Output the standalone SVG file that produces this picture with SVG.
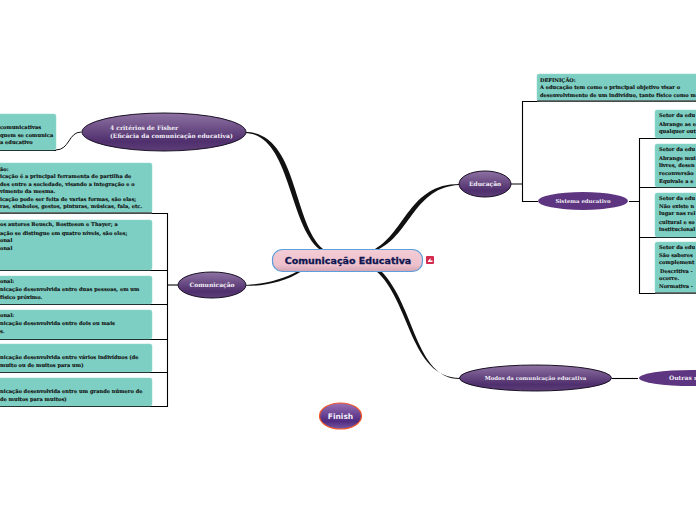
<svg xmlns="http://www.w3.org/2000/svg" width="696" height="520" viewBox="0 0 696 520">
<style>
.t{font-family:"DejaVu Serif",serif;font-weight:700;font-size:5.1px;fill:#111;stroke:#111;stroke-width:.12}
.w{font-family:"DejaVu Serif",serif;font-weight:700;font-size:6px;fill:#f2eef6}
.box{fill:#7ecfc3;stroke:#8ed6cb;stroke-width:.5}
.sh{fill:#555;opacity:.75}
.ln{fill:none;stroke:#000;stroke-width:1.1}
.c{fill:none;stroke:#111;stroke-linecap:round}
.el{fill:url(#g);stroke:#1a1024;stroke-width:1}
</style>
<defs>
<linearGradient id="g" x1="0" y1="0" x2="0" y2="1"><stop offset="0" stop-color="#8f73a3"/><stop offset=".75" stop-color="#4f2f6d"/><stop offset="1" stop-color="#5d3f78"/></linearGradient>
<linearGradient id="p" x1="0" y1="0" x2="0" y2="1"><stop offset="0" stop-color="#f3ccd6"/><stop offset=".7" stop-color="#eec1cc"/><stop offset="1" stop-color="#d3a3b2"/></linearGradient>
<linearGradient id="f" x1="0" y1="0" x2="0" y2="1"><stop offset="0" stop-color="#9a72b5"/><stop offset=".7" stop-color="#4f2a80"/><stop offset="1" stop-color="#7a58a0"/></linearGradient>
</defs>
<g id="connectors">
<path d="M323 249C292 222 298 132 245 132L245 133C290 134 288 222 319 249Z" fill="#111"/>
<path d="M298 271C284 279 265 284 246 285L246 285.800C265 286 285 282 302 271Z" fill="#111"/>
<path d="M375 249C405 232 410 184 459 184L459 185C415 187 410 234 379 249Z" fill="#111"/>
<path d="M376 271C410 300 410 378 460 378L460 379C415 379 415 305 381 271Z" fill="#111"/>
<path class="c" d="M81 132C68 132 70 150 56 150"/>
<path class="ln" stroke-width="1.400" d="M0 150.500H56"/>
<path class="ln" d="M0 213.500H167.500V406.500H0M0 270.500H167.500M0 304.500H167.500M0 339.500H167.500M0 372.500H167.500"/>
<path class="ln" d="M167 285H178" stroke-width="1.600"/>
<path class="ln" d="M511 184H522.500M696 101.500H522.500V201.500H538"/>
<path class="ln" d="M629 201.500H640M696 138.500H639.500V293.500H696M640 187.500H696M640 237.500H696"/>
<path class="ln" d="M612 378.500H638"/>
</g>
<g id="n-center">
<rect x="272.500" y="249.500" width="150" height="22" rx="10" fill="url(#p)" stroke="#5c9fdc" stroke-width="1.200"/>
<text x="348" y="264" text-anchor="middle" style="font-family:'DejaVu Sans',sans-serif;font-weight:700;font-size:9.500px;fill:#0d1450;stroke:#0d1450;stroke-width:.3">Comunicação Educativa</text>
<rect x="426" y="256" width="8" height="8" rx="1" fill="#d42a4e"/>
<path d="M428 261L430.500 258V260.500H432.500V262H428Z" fill="#fff"/>
</g>
<g id="n-fisher">
<ellipse cx="164" cy="132" rx="82" ry="19" class="el"/>
<text class="w" x="110" y="130">4 critérios de Fisher</text>
<text class="w" x="110" y="138">(Eficácia da comunicação educativa)</text>
</g>
<g id="n-fisher-note">
<rect x="-10" y="114" width="66" height="36" rx="2" class="box"/>
<text class="t" x="0" y="129">comunicativas</text>
<text class="t" x="0" y="136.500">quem se comunica</text>
<text class="t" x="0" y="144">a educativo</text>
</g>
<g id="n-def-com">
<rect x="-10" y="163" width="162" height="50" rx="2" class="box"/>
<rect x="-10" y="212" width="162" height="2" class="sh"/>
<text class="t" x="0" y="171">ão:</text>
<text class="t" x="0" y="178">icação é a principal ferramenta de partilha de</text>
<text class="t" x="0" y="186">des entre a sociedade, visando a integração e o</text>
<text class="t" x="0" y="193">vimento da mesma.</text>
<text class="t" x="0" y="201">icação pode ser feita de varias formas, são elas;</text>
<text class="t" x="0" y="208">ras, simbolos, gestos, pinturas, músicas, fala, etc.</text>
</g>
<g id="n-autores">
<rect x="-10" y="220" width="162" height="50" rx="2" class="box"/>
<text class="t" x="0" y="226">os autores Beusch, Bostteson e Thayer; a</text>
<text class="t" x="0" y="235">ação se distingue em quatro níveis, são eles;</text>
<text class="t" x="0" y="242">onal</text>
<text class="t" x="0" y="250">onal</text>
</g>
<g id="n-interpessoal">
<rect x="-10" y="276" width="162" height="28" rx="2" class="box"/>
<text class="t" x="0" y="283">onal:</text>
<text class="t" x="0" y="291">nicação desenvolvida entre duas pessoas, em um</text>
<text class="t" x="0" y="299">físico próximo.</text>
</g>
<g id="n-grupal">
<rect x="-10" y="310" width="162" height="29" rx="2" class="box"/>
<text class="t" x="0" y="317">onal:</text>
<text class="t" x="0" y="325">nicação desenvolvida entre dois ou mais</text>
<text class="t" x="0" y="333">s.</text>
</g>
<g id="n-organizacional">
<rect x="-10" y="344" width="162" height="28" rx="2" class="box"/>
<text class="t" x="0" y="359">nicação desenvolvida entre vários indivíduos (de</text>
<text class="t" x="0" y="367">muito ou de muitos para um)</text>
</g>
<g id="n-massa">
<rect x="-10" y="378" width="162" height="28" rx="2" class="box"/>
<text class="t" x="0" y="393">nicação desenvolvida entre um grande número de</text>
<text class="t" x="0" y="401">de muitos para muitos)</text>
</g>
<g id="n-comunicacao">
<ellipse cx="212" cy="285" rx="34" ry="13" class="el"/>
<text class="w" x="212" y="287" text-anchor="middle">Comunicação</text>
</g>
<g id="n-educacao">
<ellipse cx="485" cy="184" rx="26" ry="13" class="el"/>
<text class="w" x="485" y="186" text-anchor="middle">Educação</text>
</g>
<g id="n-def-edu">
<rect x="537" y="74" width="170" height="27" rx="2" class="box"/>
<rect x="537" y="100" width="170" height="2" class="sh"/>
<text class="t" x="540" y="82">DEFINIÇÃO:</text>
<text class="t" x="540" y="89">A educação tem como o principal objetivo visar o</text>
<text class="t" x="540" y="97">desenvolvimento de um indivíduo, tanto físico como m</text>
</g>
<g id="n-sistema">
<ellipse cx="583" cy="201" rx="45" ry="9" fill="#5d3580"/>
<text class="w" style="font-size:5.400px" x="583" y="203" text-anchor="middle">Sistema educativo</text>
</g>
<g id="n-setor1">
<rect x="655" y="110" width="50" height="28" rx="2" class="box"/>
<text class="t" x="659" y="117">Setor da edu</text>
<text class="t" x="659" y="126">Abrange as e</text>
<text class="t" x="659" y="133">qualquer out</text>
</g>
<g id="n-setor2">
<rect x="655" y="144" width="50" height="43" rx="2" class="box"/>
<text class="t" x="659" y="151">Setor da edu</text>
<text class="t" x="659" y="160">Abrange mui</text>
<text class="t" x="659" y="167">livres, desen</text>
<text class="t" x="659" y="175">reconversão</text>
<text class="t" x="659" y="183">Equivale a e</text>
</g>
<g id="n-setor3">
<rect x="655" y="193" width="50" height="44" rx="2" class="box"/>
<text class="t" x="659" y="200">Setor da edu</text>
<text class="t" x="659" y="208">Não existe n</text>
<text class="t" x="659" y="215">lugar nas rel</text>
<text class="t" x="659" y="224">cultural e so</text>
<text class="t" x="659" y="231">institucional</text>
</g>
<g id="n-setor4">
<rect x="655" y="242" width="50" height="51" rx="2" class="box"/>
<rect x="655" y="292" width="50" height="2" class="sh"/>
<text class="t" x="659" y="249">Setor da edu</text>
<text class="t" x="659" y="257">São saberes</text>
<text class="t" x="659" y="264">complement</text>
<text class="t" x="660" y="273">Descritiva -</text>
<text class="t" x="659" y="280">ocorre.</text>
<text class="t" x="659" y="288">Normativa -</text>
</g>
<g id="n-modos">
<ellipse cx="535.500" cy="378" rx="76" ry="13" class="el"/>
<text class="w" style="font-size:5.400px" x="535.500" y="380" text-anchor="middle">Modos da comunicação educativa</text>
</g>
<g id="n-outras">
<ellipse cx="692" cy="378" rx="53" ry="8" fill="#5d3580"/>
<text class="w" x="669" y="380">Outras m</text>
</g>
<g id="n-finish">
<ellipse cx="340.500" cy="416" rx="21" ry="13" fill="url(#f)" stroke="#f0572a" stroke-width="1.200"/>
<text x="340.500" y="419" text-anchor="middle" style="font-family:'DejaVu Sans',sans-serif;font-weight:700;font-size:7.500px;fill:#f4eff8">Finish</text>
</g>
</svg>
